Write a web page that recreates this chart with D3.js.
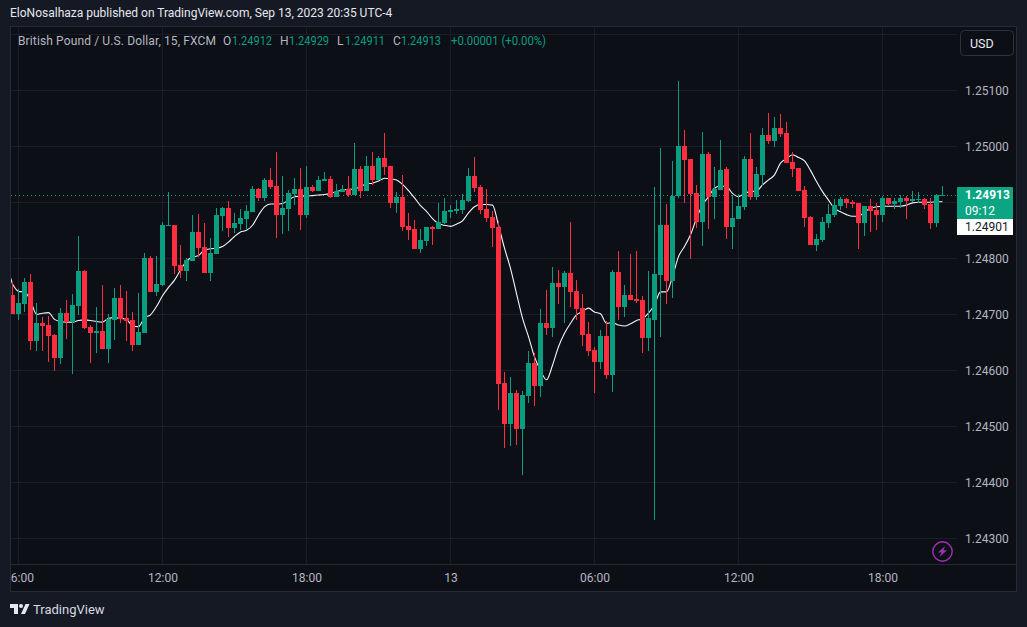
<!DOCTYPE html>
<html><head><meta charset="utf-8">
<script src="https://d3js.org/d3.v7.min.js"></script>
<style>html,body{margin:0;padding:0;background:#151924;overflow:hidden}svg{display:block}text{font-family:"Roboto","Open Sans",sans-serif}</style>
</head><body><svg id="c" width="1027" height="627"></svg>
<script>
const open_=[1.24734,1.24700,1.24718,1.24758,1.24652,1.24684,1.24681,1.24663,1.24622,1.24702,1.24686,1.24715,1.24777,1.24677,1.24667,1.24670,1.24638,1.24690,1.24729,1.24693,1.24690,1.24645,1.24667,1.24800,1.24740,1.24752,1.24858,
1.24859,1.24788,1.24777,1.24795,1.24847,1.24820,1.24774,1.24808,1.24875,1.24890,1.24854,1.24861,1.24870,1.24883,1.24924,1.24908,1.24940,1.24929,1.24877,1.24888,1.24915,1.24924,1.24877,1.24927,1.24920,1.24938,
1.24942,1.24909,1.24918,1.24924,1.24913,1.24959,1.24920,1.24965,1.24940,1.24979,1.24965,1.24899,1.24909,1.24858,1.24852,1.24817,1.24831,1.24856,1.24852,1.24863,1.24883,1.24884,1.24886,1.24902,1.24947,1.24927,1.24888,
1.24874,1.24856,1.24577,1.24504,1.24560,1.24495,1.24554,1.24613,1.24572,1.24685,1.24676,1.24756,1.24749,1.24774,1.24742,1.24711,1.24665,1.24636,1.24615,1.24661,1.24592,1.24776,1.24713,1.24735,1.24727,1.24726,1.24658,
1.24690,1.24770,1.24860,1.24760,1.24911,1.25001,1.24977,1.24917,1.24865,1.24986,1.24910,1.24922,1.24960,1.24856,1.24870,1.24892,1.24977,1.24910,1.24949,1.25020,1.25010,1.25033,1.25024,
1.24972,1.24961,1.24922,1.24874,1.24824,1.24833,1.24863,1.24877,1.24893,1.24906,1.24901,1.24899,1.24863,1.24893,1.24886,1.24877,1.24908,1.24897,1.24901,1.24908,1.24902,1.24904,1.24906,1.24897,1.24863,1.24912];
const high=[1.24758,1.24746,1.24765,1.24772,1.24720,1.24695,1.24697,1.24665,1.24711,1.24725,1.24736,1.24840,1.24779,1.24681,1.24713,1.24752,1.24700,1.24747,1.24752,1.24741,1.24704,1.24738,1.24809,1.24804,1.24804,1.24865,1.24918,
1.24859,1.24824,1.24800,1.24877,1.24879,1.24863,1.24836,1.24890,1.24891,1.24902,1.24881,1.24888,1.24895,1.24929,1.24925,1.24943,1.24961,1.24990,1.24947,1.24922,1.24943,1.24961,1.24965,1.24931,1.24947,1.24954,
1.24947,1.24933,1.24931,1.24947,1.25006,1.24965,1.24983,1.24990,1.24983,1.25024,1.24965,1.24918,1.24949,1.24881,1.24868,1.24852,1.24856,1.24858,1.24899,1.24908,1.24895,1.24904,1.24915,1.24961,1.24981,1.24931,1.24924,
1.24885,1.24867,1.24597,1.24588,1.24565,1.24563,1.24635,1.24631,1.24710,1.24743,1.24785,1.24779,1.24777,1.24865,1.24761,1.24736,1.24686,1.24642,1.24672,1.24688,1.24779,1.24813,1.24752,1.24808,1.24813,1.24733,1.24777,
1.24927,1.24997,1.24897,1.24974,1.25117,1.25029,1.24977,1.24931,1.25026,1.24990,1.24963,1.25011,1.24963,1.24913,1.24915,1.24983,1.25024,1.24963,1.25033,1.25060,1.25052,1.25058,1.25043,
1.24990,1.24961,1.24929,1.24876,1.24843,1.24874,1.24897,1.24906,1.24909,1.24908,1.24904,1.24899,1.24893,1.24906,1.24899,1.24911,1.24908,1.24908,1.24913,1.24911,1.24920,1.24918,1.24908,1.24908,1.24915,1.24929];
const low=[1.24700,1.24689,1.24705,1.24636,1.24634,1.24634,1.24615,1.24599,1.24611,1.24656,1.24593,1.24699,1.24674,1.24613,1.24631,1.24638,1.24613,1.24654,1.24684,1.24652,1.24634,1.24645,1.24667,1.24740,1.24733,1.24750,1.24858,
1.24772,1.24765,1.24759,1.24795,1.24802,1.24774,1.24759,1.24808,1.24849,1.24838,1.24845,1.24850,1.24850,1.24883,1.24902,1.24902,1.24924,1.24836,1.24843,1.24849,1.24895,1.24850,1.24872,1.24918,1.24920,1.24938,
1.24908,1.24909,1.24918,1.24909,1.24913,1.24908,1.24920,1.24931,1.24940,1.24949,1.24890,1.24881,1.24849,1.24833,1.24817,1.24809,1.24822,1.24824,1.24852,1.24861,1.24872,1.24879,1.24879,1.24900,1.24918,1.24879,1.24865,
1.24820,1.24529,1.24461,1.24465,1.24467,1.24413,1.24542,1.24536,1.24552,1.24663,1.24660,1.24718,1.24685,1.24713,1.24690,1.24643,1.24626,1.24560,1.24602,1.24585,1.24561,1.24690,1.24695,1.24726,1.24720,1.24631,1.24635,
1.24333,1.24660,1.24718,1.24729,1.24908,1.24899,1.24799,1.24854,1.24822,1.24852,1.24870,1.24922,1.24835,1.24817,1.24870,1.24886,1.24904,1.24904,1.24929,1.25004,1.24999,1.25017,1.24970,
1.24945,1.24920,1.24856,1.24824,1.24813,1.24829,1.24854,1.24874,1.24886,1.24890,1.24890,1.24817,1.24840,1.24847,1.24851,1.24865,1.24895,1.24888,1.24890,1.24870,1.24901,1.24899,1.24888,1.24852,1.24856,1.24911];
const close_=[1.24700,1.24720,1.24758,1.24652,1.24684,1.24679,1.24661,1.24622,1.24702,1.24686,1.24716,1.24777,1.24675,1.24667,1.24670,1.24638,1.24692,1.24729,1.24692,1.24688,1.24645,1.24668,1.24800,1.24740,1.24754,1.24859,1.24859,
1.24786,1.24777,1.24797,1.24847,1.24818,1.24774,1.24809,1.24877,1.24890,1.24854,1.24863,1.24872,1.24884,1.24924,1.24908,1.24940,1.24927,1.24877,1.24890,1.24917,1.24924,1.24877,1.24927,1.24920,1.24940,1.24942,
1.24909,1.24920,1.24924,1.24913,1.24959,1.24920,1.24965,1.24940,1.24979,1.24963,1.24899,1.24909,1.24856,1.24850,1.24817,1.24833,1.24856,1.24852,1.24865,1.24884,1.24886,1.24888,1.24904,1.24947,1.24925,1.24886,1.24872,
1.24854,1.24576,1.24504,1.24560,1.24495,1.24556,1.24613,1.24572,1.24685,1.24676,1.24756,1.24749,1.24774,1.24740,1.24710,1.24663,1.24634,1.24615,1.24661,1.24592,1.24776,1.24713,1.24735,1.24726,1.24724,1.24658,1.24693,
1.24772,1.24860,1.24760,1.24911,1.25001,1.24976,1.24915,1.24865,1.24986,1.24910,1.24924,1.24958,1.24856,1.24872,1.24893,1.24977,1.24910,1.24951,1.25020,1.25010,1.25033,1.25022,1.24970,
1.24959,1.24920,1.24872,1.24824,1.24834,1.24865,1.24879,1.24895,1.24906,1.24899,1.24897,1.24863,1.24893,1.24884,1.24877,1.24908,1.24897,1.24902,1.24908,1.24902,1.24906,1.24906,1.24895,1.24863,1.24913,1.24913];
const maValues=[1.24754,1.24741,1.24740,1.24725,1.24700,1.24702,1.24703,1.24691,1.24687,1.24686,1.24686,1.24689,1.24690,1.24689,1.24687,1.24686,1.24693,1.24694,1.24693,1.24691,1.24679,1.24678,1.24694,1.24699,1.24714,1.24733,1.24748,
1.24761,1.24779,1.24795,1.24802,1.24805,1.24815,1.24817,1.24818,1.24821,1.24829,1.24839,1.24847,1.24850,1.24859,1.24877,1.24892,1.24897,1.24897,1.24898,1.24904,1.24910,1.24911,1.24911,1.24912,1.24913,1.24914,
1.24916,1.24919,1.24922,1.24923,1.24924,1.24928,1.24933,1.24934,1.24938,1.24943,1.24942,1.24940,1.24932,1.24921,1.24908,1.24894,1.24884,1.24871,1.24862,1.24859,1.24857,1.24861,1.24867,1.24881,1.24892,1.24896,1.24896,
1.24895,1.24859,1.24818,1.24782,1.24737,1.24693,1.24660,1.24624,1.24600,1.24583,1.24609,1.24642,1.24666,1.24684,1.24699,1.24705,1.24711,1.24704,1.24701,1.24684,1.24685,1.24681,1.24679,1.24683,1.24689,1.24692,1.24702,
1.24717,1.24740,1.24740,1.24767,1.24803,1.24821,1.24842,1.24871,1.24895,1.24910,1.24925,1.24929,1.24928,1.24916,1.24910,1.24916,1.24919,1.24920,1.24931,1.24940,1.24949,1.24970,1.24978,
1.24985,1.24980,1.24974,1.24957,1.24937,1.24919,1.24904,1.24889,1.24883,1.24878,1.24875,1.24875,1.24883,1.24889,1.24892,1.24893,1.24893,1.24893,1.24893,1.24895,1.24899,1.24900,1.24900,1.24900,1.24901,1.24901];
const gridPrices=[1.252,1.251,1.25,1.249,1.248,1.247,1.246,1.245,1.244,1.243];
const priceTicks=[1.251,1.25,1.248,1.247,1.246,1.245,1.244,1.243];
const timeIndex=[1,25,49,73,97,121,145];
const timeLabels=["06:00","12:00","18:00","13","06:00","12:00","18:00"];
const title="EloNosalhaza published on TradingView.com, Sep 13, 2023 20:35 UTC-4";
const symbol="British Pound / U.S. Dollar, 15, FXCM";
const ohlc=[["O","1.24912"],["H","1.24929"],["L","1.24911"],["C","1.24913"]];
const change="+0.00001 (+0.00%)";
const lastPrice=1.24913, maLast=1.24901;

const UP="#089e7f",DOWN="#fe2e40",GRID="#1b1e2a",TXT="#b4b7c0",BG="#0d0f17",OUT="#151924",BORDER="#262a36";
const svg=d3.select("#c");
const x=d3.scaleLinear().domain([0,155]).range([12.5,942.5]);
const y=d3.scaleLinear().domain([1.243,1.251]).range([538.3,90.3]);
svg.append("rect").attr("width",1027).attr("height",627).attr("fill",OUT);
svg.append("rect").attr("x",10).attr("y",26).attr("width",1007).attr("height",565).attr("fill",BG);
const defs=svg.append("defs");
defs.append("clipPath").attr("id","plot").append("rect").attr("x",11).attr("y",27).attr("width",946).attr("height",537);
defs.append("clipPath").attr("id","tx").append("rect").attr("x",11).attr("y",565).attr("width",946).attr("height",26);

const crisp=s=>s.attr("shape-rendering","crispEdges");
const plot=svg.append("g").attr("clip-path","url(#plot)");
// grid
plot.append("g").selectAll("line").data(gridPrices).join("line").call(crisp)
 .attr("x1",11).attr("x2",957).attr("y1",d=>Math.round(y(d))+.5).attr("y2",d=>Math.round(y(d))+.5).attr("stroke",GRID);
plot.append("g").selectAll("line").data(timeIndex).join("line").call(crisp)
 .attr("x1",d=>Math.floor(x(d))+.5).attr("x2",d=>Math.floor(x(d))+.5).attr("y1",27).attr("y2",564).attr("stroke",GRID);
// last price dotted
plot.append("line").attr("x1",11).attr("x2",957).attr("y1",Math.round(y(lastPrice))+.5).attr("y2",Math.round(y(lastPrice))+.5)
 .attr("stroke",UP).attr("stroke-dasharray","1 3").call(crisp);
// MA (beneath the candles)
const line=d3.line().x((d,i)=>x(i)).y(d=>y(d)).curve(d3.curveMonotoneX);
plot.append("path").attr("d",line(maValues)).attr("fill","none").attr("stroke","#f4f5f7").attr("stroke-width",1.1);
plot.append("path").attr("d",d3.line().x(d=>d[0]).y(d=>y(d[1]))([[x(-0.4),1.24768],[x(0),maValues[0]]])).attr("stroke","#f4f5f7").attr("stroke-width",1.1);
// candles
const rows=d3.range(open_.length);
const col=i=>close_[i]>=open_[i]?UP:DOWN;
const g=plot.append("g").call(crisp);
g.selectAll("rect.w").data(rows).join("rect").attr("class","w")
 .attr("x",i=>x(i)-.5).attr("width",1).attr("y",i=>Math.round(y(high[i])))
 .attr("height",i=>Math.max(1,Math.round(y(low[i]))-Math.round(y(high[i])))).attr("fill",col);
g.selectAll("rect.b").data(rows).join("rect").attr("class","b")
 .attr("x",i=>x(i)-2.5).attr("width",5).attr("y",i=>Math.round(y(Math.max(open_[i],close_[i]))))
 .attr("height",i=>Math.max(1,Math.round(y(Math.min(open_[i],close_[i])))-Math.round(y(Math.max(open_[i],close_[i]))))).attr("fill",col);

// panel lines
svg.append("g").call(crisp).selectAll("line").data([[10.5,26,10.5,591],[1016.5,26,1016.5,591],[10,26.5,1017,26.5],[10,591.5,1017,591.5],[11,564.5,1016,564.5]]).join("line")
 .attr("x1",d=>d[0]).attr("y1",d=>d[1]).attr("x2",d=>d[2]).attr("y2",d=>d[3]).attr("stroke",BORDER);

// axes
const ay=d3.axisRight(y).tickValues(priceTicks).tickFormat(d3.format(".5f")).tickSize(0).tickPadding(0);
const gy=svg.append("g").attr("transform","translate(965,0)").call(ay);
gy.select(".domain").remove();
gy.selectAll("text").attr("fill",TXT).style("font-size","12px").style("font-family","Roboto");
const ax=d3.axisBottom(x).tickValues(timeIndex).tickFormat((d,i)=>timeLabels[i]).tickSize(0).tickPadding(0);
const gx=svg.append("g").attr("clip-path","url(#tx)").append("g").attr("transform","translate(0,573)").call(ax);
gx.select(".domain").remove();
gx.selectAll("text").attr("fill",TXT).style("font-size","12px").style("font-family","Roboto");

// header
const t=(s,xx,yy,f,size,w,anchor)=>svg.append("text").attr("x",xx).attr("y",yy).attr("fill",f).attr("font-size",size).attr("font-weight",w||400).attr("text-anchor",anchor||"start").text(s);
t(title,10,17,"#e6e8ee",12);
t(symbol,18,45,TXT,12).attr("textLength",198).attr("lengthAdjust","spacing");
const ox=[223,280,337,393],vx=[232,289,345,401];
ohlc.forEach((d,i)=>{t(d[0],ox[i],45,TXT,12);t(d[1],vx[i],45,UP,12).attr("textLength",40).attr("lengthAdjust","spacingAndGlyphs");});
t(change,451,45,UP,12).attr("textLength",95).attr("lengthAdjust","spacingAndGlyphs");
// USD button
svg.append("rect").attr("x",960.5).attr("y",30.5).attr("width",53).attr("height",25).attr("rx",4).attr("fill",BG).attr("stroke","#2e323e");
t("USD",970,48,"#e6e8ee",12.5);
// price labels
svg.append("rect").attr("x",957).attr("y",187).attr("width",56).attr("height",32).attr("rx",1).attr("fill","#0ba583");
svg.append("rect").attr("x",957).attr("y",219).attr("width",56).attr("height",16).attr("fill","#ffffff");
t(d3.format(".5f")(lastPrice),965,199,"#ffffff",12,700);
t("09:12",965,215,"#ffffff",12);
t(d3.format(".5f")(maLast),965,231,"#131722",12);
// lightning
const bolt=svg.append("g").attr("transform","translate(942.5,551.5)");
bolt.append("circle").attr("r",9.7).attr("fill","none").attr("stroke","#a02fb5").attr("stroke-width",1.4);
bolt.append("path").attr("d","M2.5,-5.5 L-4.5,1 L-1,1 L-3,5.5 L4.5,-1.2 L1,-1.2 Z").attr("fill","#a02fb5");
// logo
const logo=svg.append("g").attr("transform","translate(10,604)").attr("fill","#e6e8ee");
logo.append("path").attr("d","M0,0 H8 V10 H4 V4 H0 Z");
logo.append("circle").attr("cx",11).attr("cy",2).attr("r",2);
logo.append("path").attr("d","M15.5,0 H19.5 L15,10 H11 Z");
t("TradingView",33,614,"#d8dae0",13);
</script></body></html>
